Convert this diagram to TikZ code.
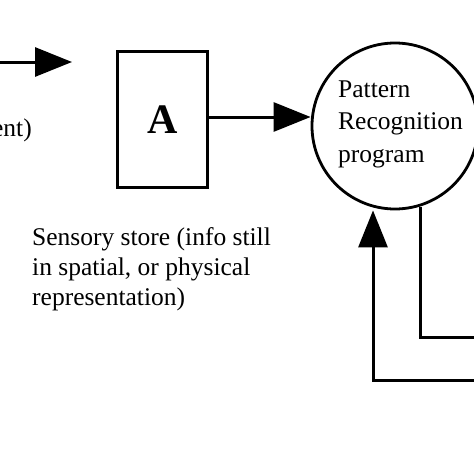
\documentclass[tikz,border=0pt]{standalone}
\usepackage{fontspec}
\setmainfont{Liberation Serif}
\usetikzlibrary{arrows.meta, positioning}

\begin{document}
\begin{tikzpicture}[x=1pt, y=-1pt]
        \tikzstyle{store} = [rectangle, draw, line width=3pt, minimum width=90pt, minimum height=136pt, inner sep=0pt, font=\fontsize{42}{42}\selectfont\bfseries]
        \tikzstyle{prog} = [circle, draw, line width=2.8pt, minimum size=166pt, inner sep=0pt]
        \tikzstyle{label} = [align=left, font=\fontsize{25.5}{30}\selectfont, inner sep=0pt]
        \tikzstyle{flow} = [line width=3pt, -{Triangle[length=37pt, width=29pt]}]
        \tikzstyle{back} = [line width=3pt]
        \useasboundingbox (0,0) rectangle (474,474);
        % boxes
        \node (sensory) [store] at (162.5,119.5) {A};
        \node (pattern) [prog] at (395,126) {};
        \node (patterntext) [label, font=\fontsize{25.5}{32.5}\selectfont, anchor=base west] at (338,162) {Pattern\\ Recognition\\ program};
        \node (storetext) [label, anchor=base west] at (32,305) {Sensory store (info still\\ in spatial, or physical\\ representation)};
        \node (inputtext) [label, anchor=base east] at (32,136) {ent)};
        % connectors
        \coordinate (input) at (-2,62);
        \coordinate (inputend) at (72,62);
        \coordinate (outA) at (476,337);
        \coordinate (outB) at (476,380);
        \draw [flow] (input) -- (inputend);
        \draw [flow] ([yshift=2.5pt]sensory.east) -- ([yshift=2.5pt]sensory.east -| pattern.west);
        \draw [back] (pattern.south -| 420,0) ++(0,-3) -- (420,337) -- (outA);
        \draw [flow] (outB) -- (373,380) -- (pattern.south -| 373,0);
\end{tikzpicture}
\end{document}
